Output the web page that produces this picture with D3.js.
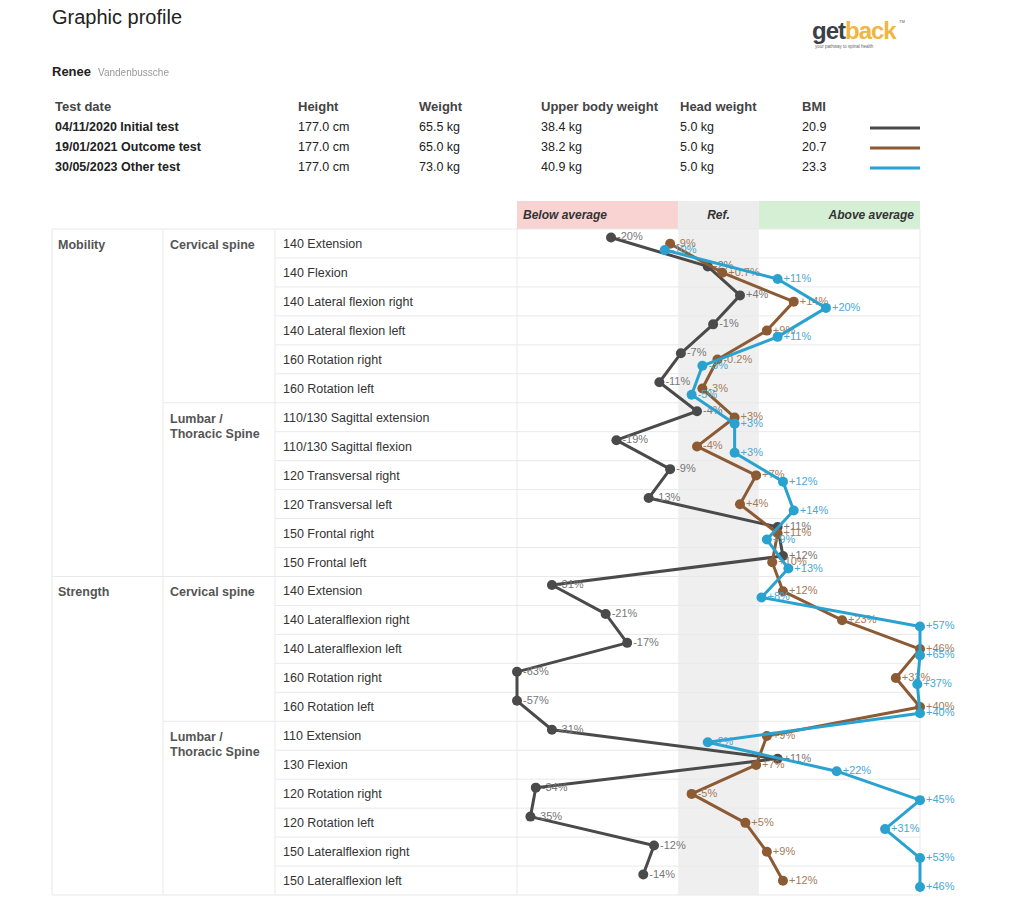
<!DOCTYPE html>
<html lang="en">
<head>
    <meta charset="UTF-8">
    <title>Graphic profile</title>
    <style>
        body {
            margin: 0;
            background: #fff;
            font-family: "Liberation Sans", Arial, sans-serif;
        }
        svg text { font-family: "Liberation Sans", Arial, sans-serif; }
    </style>
    <script src="https://d3js.org/d3.v7.min.js"></script>
</head>
<body>
    <div id="chart"></div>
    <script>
        // test summary table
        const testDates = ["04/11/2020 Initial test", "19/01/2021 Outcome test", "30/05/2023 Other test"];
        const heights = ["177.0 cm", "177.0 cm", "177.0 cm"];
        const weights = ["65.5 kg", "65.0 kg", "73.0 kg"];
        const upperWeights = ["38.4 kg", "38.2 kg", "40.9 kg"];
        const headWeights = ["5.0 kg", "5.0 kg", "5.0 kg"];
        const bmis = ["20.9", "20.7", "23.3"];

        // exercises
        const rowLabels = [
            "140 Extension", "140 Flexion", "140 Lateral flexion right", "140 Lateral flexion left",
            "160 Rotation right", "160 Rotation left", "110/130 Sagittal extension", "110/130 Sagittal flexion",
            "120 Transversal right", "120 Transversal left", "150 Frontal right", "150 Frontal left",
            "140 Extension", "140 Lateralflexion right", "140 Lateralflexion left", "160 Rotation right",
            "160 Rotation left", "110 Extension", "130 Flexion", "120 Rotation right",
            "120 Rotation left", "150 Lateralflexion right", "150 Lateralflexion left"
        ];
        const mainGroups = [["Mobility", 0, 12], ["Strength", 12, 11]];
        const subGroups = [
            [["Cervical spine"], 0, 6], [["Lumbar /", "Thoracic Spine"], 6, 6],
            [["Cervical spine"], 12, 5], [["Lumbar /", "Thoracic Spine"], 17, 6]
        ];

        // % deviation from reference, per test
        const initialTest = [-20, -2, 4, -1, -7, -11, -4, -19, -9, -13, 11, 12,
            -31, -21, -17, -63, -57, -31, 11, -34, -35, -12, -14];
        const outcomeTest = [-9, 0.7, 14, 9, -0.2, -3, 3, -4, 7, 4, 11, 10,
            12, 23, 46, 33, 40, 9, 7, -5, 5, 9, 12];
        const otherTest = [-10, 11, 20, 11, -3, -5, 3, 3, 12, 14, 9, 13,
            8, 57, 65, 37, 40, -2, 22, 45, 31, 53, 46];

        const zones = [["Below average", -37.5, -7.5], ["Ref.", -7.5, 7.5], ["Above average", 7.5, 37.5]];

        const seriesColors = ["#4a4a4a", "#8c5a33", "#2aa2d0"];
        const labelColors = ["#777777", "#a57a58", "#4aa8d0"];
        const zoneColors = ["#f8d3d2", "#ececec", "#d5efd5"];
        const gridColor = "#e9e9e9";

        const W = 1024, H = 907;
        const svg = d3.select("#chart").append("svg")
            .attr("width", W).attr("height", H);

        const defs = svg.append("defs");
        defs.append("filter").attr("id", "blur")
            .append("feGaussianBlur").attr("stdDeviation", 0.7);

        // title + name
        svg.append("text").attr("x", 52).attr("y", 24)
            .attr("font-size", 20).attr("fill", "#222").text("Graphic profile");
        svg.append("text").attr("x", 52).attr("y", 76)
            .attr("font-size", 13).attr("font-weight", "bold").attr("fill", "#222").text("Renee");
        svg.append("text").attr("x", 98).attr("y", 76)
            .attr("font-size", 10).attr("fill", "#999").attr("filter", "url(#blur)")
            .text("Vandenbussche");

        // logo
        const logo = svg.append("text").attr("x", 812).attr("y", 39)
            .attr("font-size", 24).attr("font-weight", "bold").attr("letter-spacing", -1);
        logo.append("tspan").attr("fill", "#3b4048").text("get");
        logo.append("tspan").attr("fill", "#f2b53d").text("back");
        svg.append("text").attr("x", 899).attr("y", 23).attr("font-size", 4).attr("fill", "#555").text("TM");
        svg.append("text").attr("x", 815).attr("y", 48).attr("font-size", 4.5).attr("fill", "#666")
            .text("your pathway to spinal health");

        // test table
        const cols = [
            ["Test date", testDates, 55], ["Height", heights, 298], ["Weight", weights, 419],
            ["Upper body weight", upperWeights, 541], ["Head weight", headWeights, 680], ["BMI", bmis, 802]
        ];
        const rowY = [127, 147, 167];
        cols.forEach(([head, vals, x], ci) => {
            svg.append("text").attr("x", x).attr("y", 111)
                .attr("font-size", 13).attr("fill", "#444").attr("font-weight", 600).text(head);
            vals.forEach((v, i) => {
                svg.append("text").attr("x", x).attr("y", rowY[i] + 4)
                    .attr("font-size", 12.5).attr("fill", "#222")
                    .attr("font-weight", ci === 0 ? "bold" : "normal").text(v);
            });
        });
        rowY.forEach((y, i) => {
            svg.append("line").attr("x1", 870).attr("x2", 920).attr("y1", y + 1).attr("y2", y + 1)
                .attr("stroke", seriesColors[i]).attr("stroke-width", 3);
        });

        // chart scales
        const x = d3.scaleLinear().domain([-37.5, 37.5]).range([517, 920]).clamp(true);
        const y = d3.scaleBand().domain(d3.range(rowLabels.length)).range([229, 895]);
        const sub = d3.scalePoint().domain([0, 1, 2]).range([-6, 6.5]);
        const headTop = 201, chartBottom = 895;

        // zone header + ref band
        zones.forEach(([label, a, b], i) => {
            svg.append("rect").attr("x", x(a)).attr("y", headTop)
                .attr("width", x(b) - x(a)).attr("height", y.range()[0] - headTop)
                .attr("fill", zoneColors[i]);
            const t = svg.append("text").attr("y", 219).attr("font-size", 12)
                .attr("font-weight", "bold").attr("font-style", "italic").attr("fill", "#333").text(label);
            if (i === 0) t.attr("x", x(a) + 6);
            else if (i === 1) t.attr("x", (x(a) + x(b)) / 2).attr("text-anchor", "middle");
            else t.attr("x", x(b) - 6).attr("text-anchor", "end");
        });
        svg.append("rect").attr("x", x(-7.5)).attr("y", y.range()[0])
            .attr("width", x(7.5) - x(-7.5)).attr("height", chartBottom - y.range()[0])
            .attr("fill", "#efefef");

        // grid lines
        const grid = svg.append("g").attr("stroke", gridColor).attr("stroke-width", 1);
        d3.range(rowLabels.length).forEach(i => {
            const yy = y(i);
            let x0 = 275;
            if (subGroups.some(g => g[1] === i)) x0 = 163;
            if (mainGroups.some(g => g[1] === i)) x0 = 52;
            grid.append("line").attr("x1", x0).attr("x2", 920).attr("y1", yy).attr("y2", yy);
        });
        grid.append("line").attr("x1", 52).attr("x2", 920).attr("y1", chartBottom).attr("y2", chartBottom);
        [52, 163, 275, 517, 920].forEach(xx => {
            grid.append("line").attr("x1", xx).attr("x2", xx).attr("y1", y.range()[0]).attr("y2", chartBottom);
        });

        // group labels
        mainGroups.forEach(([name, start]) => {
            svg.append("text").attr("x", 58).attr("y", y(start) + 20)
                .attr("font-size", 12.5).attr("font-weight", "bold").attr("fill", "#555").text(name);
        });
        subGroups.forEach(([lines, start]) => {
            lines.forEach((ln, k) => {
                svg.append("text").attr("x", 170).attr("y", y(start) + 20 + k * 15)
                    .attr("font-size", 12.5).attr("font-weight", "bold").attr("fill", "#555").text(ln);
            });
        });
        rowLabels.forEach((lab, i) => {
            svg.append("text").attr("x", 283).attr("y", y(i) + y.bandwidth() / 2 + 4.5)
                .attr("font-size", 12.5).attr("fill", "#333").text(lab);
        });

        // series
        const fmt = v => (v > 0 ? "+" : "") + v + "%";
        [initialTest, outcomeTest, otherTest].forEach((vals, s) => {
            const pts = vals.map((v, i) => ({ v, px: x(v), py: y(i) + y.bandwidth() / 2 + sub(s) }));
            const g = svg.append("g");
            g.append("path").datum(pts)
                .attr("d", d3.line().x(d => d.px).y(d => d.py))
                .attr("fill", "none").attr("stroke", seriesColors[s])
                .attr("stroke-width", 3).attr("stroke-linejoin", "round");
            g.selectAll("circle").data(pts).join("circle")
                .attr("cx", d => d.px).attr("cy", d => d.py).attr("r", 5)
                .attr("fill", seriesColors[s]);
            g.selectAll("text").data(pts).join("text")
                .attr("x", d => d.px + 6).attr("y", d => d.py + 3)
                .attr("font-size", 11).attr("fill", labelColors[s]).text(d => fmt(d.v));
        });
    </script>
</body>
</html>
